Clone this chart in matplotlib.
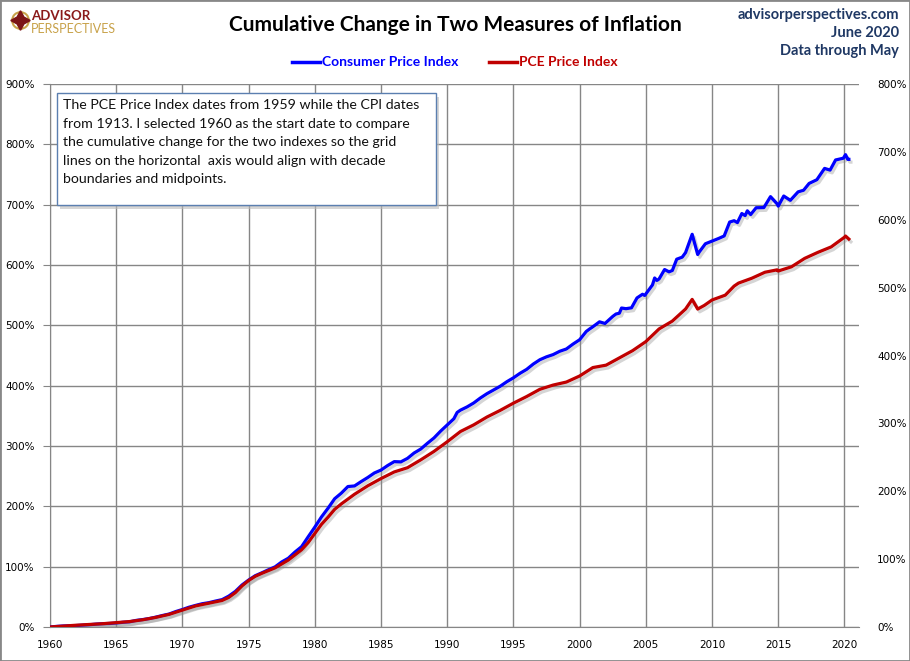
import matplotlib
matplotlib.use("Agg")
import matplotlib.pyplot as plt
import matplotlib.patheffects as pe
from matplotlib.lines import Line2D
from matplotlib.patches import Rectangle

W, H = 910, 661

# Cumulative change since Jan 1960 (%)
cpi_dates = [
    "1960-01", "1960-07", "1961-01", "1961-07", "1962-01", "1962-07", "1963-01", "1963-07",
    "1964-01", "1964-07", "1965-01", "1965-07", "1966-01", "1966-07", "1967-01", "1967-07",
    "1968-01", "1968-07", "1969-01", "1969-07", "1970-01", "1970-07", "1971-01", "1971-07",
    "1972-01", "1972-07", "1973-01", "1973-07", "1974-01", "1974-07", "1975-01", "1975-07",
    "1976-01", "1976-07", "1977-01", "1977-07", "1978-01", "1978-07", "1979-01", "1979-07",
    "1980-01", "1980-07", "1981-01", "1981-07", "1982-01", "1982-07", "1983-01", "1983-07",
    "1984-01", "1984-07", "1985-01", "1985-07", "1986-01", "1986-07", "1987-01", "1987-07",
    "1988-01", "1988-07", "1989-01", "1989-07", "1990-01", "1990-07", "1990-10", "1991-01",
    "1991-07", "1992-01", "1992-07", "1993-01", "1993-07", "1994-01", "1994-07", "1995-01",
    "1995-07", "1996-01", "1996-07", "1997-01", "1997-07", "1998-01", "1998-07", "1999-01",
    "1999-07", "2000-01", "2000-07", "2000-10", "2001-01", "2001-07", "2001-12", "2002-07",
    "2002-10", "2003-01", "2003-03", "2003-07", "2003-12", "2004-05", "2004-10", "2004-12",
    "2005-07", "2005-09", "2005-11", "2006-01", "2006-06", "2006-10", "2007-01", "2007-05",
    "2007-10", "2008-01", "2008-07", "2008-12", "2009-01", "2009-07", "2010-01", "2010-07",
    "2010-12", "2011-05", "2011-09", "2011-12", "2012-04", "2012-07", "2012-09", "2012-12",
    "2013-05", "2013-12", "2014-06", "2014-12", "2015-01", "2015-06", "2015-12", "2016-07",
    "2016-12", "2017-05", "2017-12", "2018-07", "2018-12", "2019-05", "2019-12", "2020-02",
    "2020-04", "2020-05",
]
cpi_pct = [
    0.0, 1.0, 1.7, 2.0, 2.4, 3.1, 3.8, 4.8,
    5.5, 5.8, 6.5, 7.8, 8.5, 10.9, 12.3, 14.0,
    16.4, 19.1, 21.5, 25.6, 29.0, 32.8, 35.8, 38.6,
    40.3, 43.0, 45.4, 51.2, 59.0, 69.6, 77.8, 85.0,
    89.8, 94.9, 99.7, 107.8, 114.0, 124.2, 133.1, 149.5,
    165.5, 182.3, 196.9, 212.6, 221.8, 232.8, 233.8, 241.0,
    247.8, 255.3, 260.1, 267.6, 274.1, 273.7, 279.5, 288.4,
    294.9, 304.4, 313.3, 324.6, 334.8, 345.1, 355.6, 359.4,
    364.8, 371.3, 379.5, 386.7, 392.8, 399.0, 406.5, 413.0,
    420.5, 427.0, 435.8, 443.0, 447.8, 451.5, 457.0, 460.8,
    468.9, 476.1, 489.8, 493.9, 497.6, 505.8, 503.1, 514.7,
    518.8, 520.1, 528.7, 527.6, 529.0, 545.4, 551.5, 549.5,
    566.9, 578.5, 574.4, 576.8, 592.5, 588.7, 590.8, 609.6,
    613.0, 620.5, 650.9, 617.4, 620.5, 635.2, 639.6, 644.0,
    648.1, 671.2, 673.4, 670.3, 685.3, 681.9, 689.8, 683.6,
    694.9, 695.2, 713.3, 701.4, 697.6, 714.3, 707.2, 721.2,
    723.9, 735.2, 741.3, 760.1, 757.3, 774.1, 777.0, 782.9,
    775.1, 775.1,
]

pce_dates = [
    "1960-01", "1962-01", "1964-01", "1966-01", "1967-01", "1968-01", "1969-01", "1970-01",
    "1971-01", "1972-01", "1973-01", "1973-07", "1974-01", "1974-07", "1975-01", "1975-07",
    "1976-01", "1977-01", "1978-01", "1979-01", "1979-07", "1980-01", "1980-07", "1981-01",
    "1981-07", "1982-01", "1983-01", "1984-01", "1985-01", "1986-01", "1987-01", "1988-01",
    "1989-01", "1990-01", "1991-01", "1992-01", "1993-01", "1994-01", "1995-01", "1996-01",
    "1997-01", "1998-01", "1999-01", "2000-01", "2001-01", "2002-01", "2003-01", "2004-01",
    "2005-01", "2006-01", "2007-01", "2008-01", "2008-07", "2008-12", "2009-06", "2010-01",
    "2011-01", "2011-09", "2012-01", "2013-01", "2014-01", "2014-12", "2015-01", "2016-01",
    "2017-01", "2018-01", "2019-01", "2020-01", "2020-02", "2020-05",
]
pce_pct = [
    0, 3, 5.5, 9, 12, 16, 21, 28,
    35, 39.5, 44, 49, 57, 68, 77, 84,
    89, 98, 111, 128, 140, 155, 170, 182,
    195, 204, 220, 234, 246, 257, 264, 277,
    291, 307, 324, 335, 348, 359, 371, 382,
    394, 401, 406, 416, 430, 434, 446, 458,
    473, 494, 507, 527, 543, 527, 533, 542,
    550, 565, 570, 578, 588, 592, 590, 597,
    611, 621, 630, 646, 648, 643,
]

x_ticks = list(range(1960, 2021, 5))
left_ticks = list(range(0, 901, 100))
right_ticks = list(range(0, 801, 100))

note = ("The PCE Price Index dates from 1959 while the CPI dates\n"
        "from 1913. I selected 1960 as the start date to compare\n"
        "the cumulative change for the two indexes so the grid\n"
        "lines on the horizontal  axis would align with decade\n"
        "boundaries and midpoints.")


def to_year(d):
    y, m = d.split("-")
    return int(y) + (int(m) - 1) / 12


def fx(x):
    return x / W


def fy(y):
    return 1 - y / H


GRID = "#868686"
NAVY = "#1F3864"

fig = plt.figure(figsize=(W / 100, H / 100), dpi=100)
ax = fig.add_axes([fx(50), fy(627), fx(859) - fx(50), fy(84) - fy(627)])

shadow = [pe.SimpleLineShadow(offset=(1.5, -2), shadow_color="#888888", alpha=0.35),
          pe.Normal()]
ax.plot([to_year(d) for d in cpi_dates], cpi_pct, color="#0000FF", lw=2.3,
        solid_joinstyle="round", path_effects=shadow, zorder=3)
ax.plot([to_year(d) for d in pce_dates], pce_pct, color="#C00000", lw=2.3,
        solid_joinstyle="round", path_effects=shadow, zorder=4)

ax.set_xlim(1960, 2021.1)
ax.set_ylim(0, 900)
ax.set_xticks(x_ticks)
ax.set_yticks(left_ticks)
ax.set_yticklabels([f"{v}%" for v in left_ticks])
ax.grid(True, color=GRID, lw=1)
ax.set_axisbelow(True)
for side in ["top", "right"]:
    ax.spines[side].set_visible(False)
for side in ["left", "bottom"]:
    ax.spines[side].set_color(GRID)
ax.tick_params(axis="x", length=0, pad=9, labelsize=7.5, labelcolor="black")
ax.tick_params(axis="y", length=5, color=GRID, pad=6, labelsize=7.5)

ax2 = ax.twinx()
ax2.set_ylim(0, 800)
ax2.set_yticks(right_ticks)
ax2.set_yticklabels([f"{v}%" for v in right_ticks])
ax2.tick_params(axis="y", length=0, pad=13, labelsize=7.5)
for s in ax2.spines.values():
    s.set_visible(False)

# note box
bx0, by0, bx1, by1 = 57, 93, 436, 205
fig.add_artist(Rectangle((fx(bx0 + 3), fy(by1 + 4)), fx(bx1 - bx0), fy(by0) - fy(by1),
                         transform=fig.transFigure, facecolor="#BBBBBB",
                         edgecolor="none", alpha=0.6, zorder=5))
fig.add_artist(Rectangle((fx(bx0), fy(by1)), fx(bx1 - bx0), fy(by0) - fy(by1),
                         transform=fig.transFigure, facecolor="white",
                         edgecolor="#5B7FB0", lw=1, zorder=6))
fig.text(fx(63), fy(99), note, ha="left", va="top", fontsize=10.2,
         family="Lato", linespacing=1.66, color="#111111", zorder=7)

# title and header
fig.text(fx(455), fy(25), "Cumulative Change in Two Measures of Inflation",
         ha="center", va="center", fontsize=15, fontweight="bold", family="Lato")
for txt, yy in [("advisorperspectives.com", 15), ("June 2020", 33),
                ("Data through May", 51)]:
    fig.text(fx(899), fy(yy), txt, ha="right", va="center", fontsize=10.5,
             color=NAVY, family="Lato", fontweight="bold")

# legend
fig.add_artist(Line2D([fx(292), fx(320)], [fy(62), fy(62)], color="#0000FF",
                      lw=2.5, transform=fig.transFigure))
fig.text(fx(322), fy(62), "Consumer Price Index", ha="left", va="center",
         fontsize=10, fontweight="bold", color="#0000FF", family="Lato")
fig.add_artist(Line2D([fx(489), fx(517)], [fy(62), fy(62)], color="#C00000",
                      lw=2.5, transform=fig.transFigure))
fig.text(fx(519), fy(62), "PCE Price Index", ha="left", va="center",
         fontsize=10, fontweight="bold", color="#C00000", family="Lato")

# logo
fig.add_artist(Line2D([fx(20)], [fy(20)], marker="o", markersize=12,
                      markerfacecolor="none", markeredgecolor="#C8A24A",
                      markeredgewidth=1.5, transform=fig.transFigure))
fig.add_artist(Line2D([fx(20)], [fy(20)], marker=(4, 1, 0), markersize=14,
                      color="#7B1416", transform=fig.transFigure))
fig.text(fx(31), fy(20), "ADVISOR", ha="left", va="baseline", fontsize=9.5,
         fontweight="bold", color="#8B1A1A", family="Lato")
fig.text(fx(31), fy(33), "PERSPECTIVES", ha="left", va="baseline", fontsize=9,
         color="#C8A24A", family="Lato")

fig.add_artist(Rectangle((0, 0), 1, 1, transform=fig.transFigure, fill=False,
                         edgecolor="#888888", lw=2))

fig.savefig("out.png", dpi=100)
